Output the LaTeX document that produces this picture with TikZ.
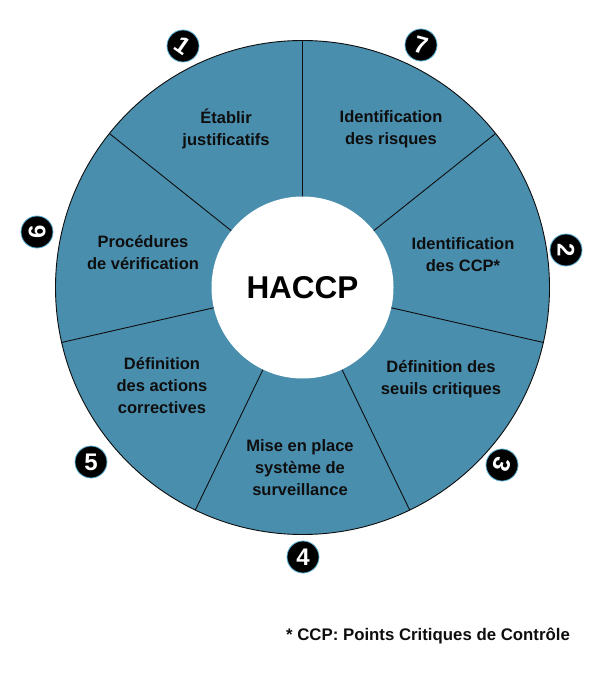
\documentclass[tikz,border=0pt]{standalone}
\usepackage{fontspec}
\setmainfont{Liberation Sans}
\definecolor{wheelblue}{HTML}{4A8EAE}
\definecolor{rimblue}{HTML}{5BB0D5}
\definecolor{inkdark}{HTML}{0E0E0E}

\tikzset{
	step label/.style={align=center, text=inkdark, font=\bfseries\fontsize{16.5}{22}\selectfont},
	badge/.style={circle, fill=black, draw=rimblue, line width=0.8pt, minimum size=32pt, inner sep=0pt,
		text=white, font=\bfseries\fontsize{24}{24}\selectfont},
}

\begin{document}
\begin{tikzpicture}[x=1pt,y=-1pt]
	\useasboundingbox (0,0) rectangle (595,676);
	\coordinate (c) at (302.5,287.5);
	% wheel
	\fill[wheelblue] (c) circle (247);
	\foreach \i in {0,...,6}
		\draw[inkdark, line width=0.9pt, shift={(c)}] (0,0) -- (-90+\i*360/7:247);
	\draw[inkdark, line width=0.9pt] (c) circle (247);
	\node (haccp) [circle, fill=white, minimum size=182pt, inner sep=0pt,
		font=\bfseries\fontsize{31.5}{32}\selectfont] at (c) {HACCP};
	% steps
	\node (risques) [step label] at (391,129) {Identification\\des risques};
	\node (ccp) [step label] at (463,255) {Identification\\des CCP*};
	\node (seuils) [step label] at (441,379) {Définition des\\seuils critiques};
	\node (surv) [step label] at (300,468) {Mise en place\\système de\\surveillance};
	\node (actions) [step label] at (162,386) {Définition\\des actions\\correctives};
	\node (verif) [step label] at (143,253) {Procédures\\de vérification};
	\node (justif) [step label] at (226,129) {Établir\\justificatifs};
	% numbers
	\node (n1) [badge, rotate=-35] at (183,46) {1};
	\node (n7) [badge, rotate=-15] at (421,45) {7};
	\node (n2) [badge, rotate=-90] at (566,250) {2};
	\node (n3) [badge, rotate=-110] at (502,465) {3};
	\node (n4) [badge] at (303,557) {4};
	\node (n5) [badge] at (91,462) {5};
	\node (n6) [badge, rotate=90] at (37,232) {6};
	% footnote
	\node (note) [text=inkdark, font=\bfseries\fontsize{16.8}{18}\selectfont] at (428,636)
		{* CCP: Points Critiques de Contrôle};
\end{tikzpicture}
\end{document}
